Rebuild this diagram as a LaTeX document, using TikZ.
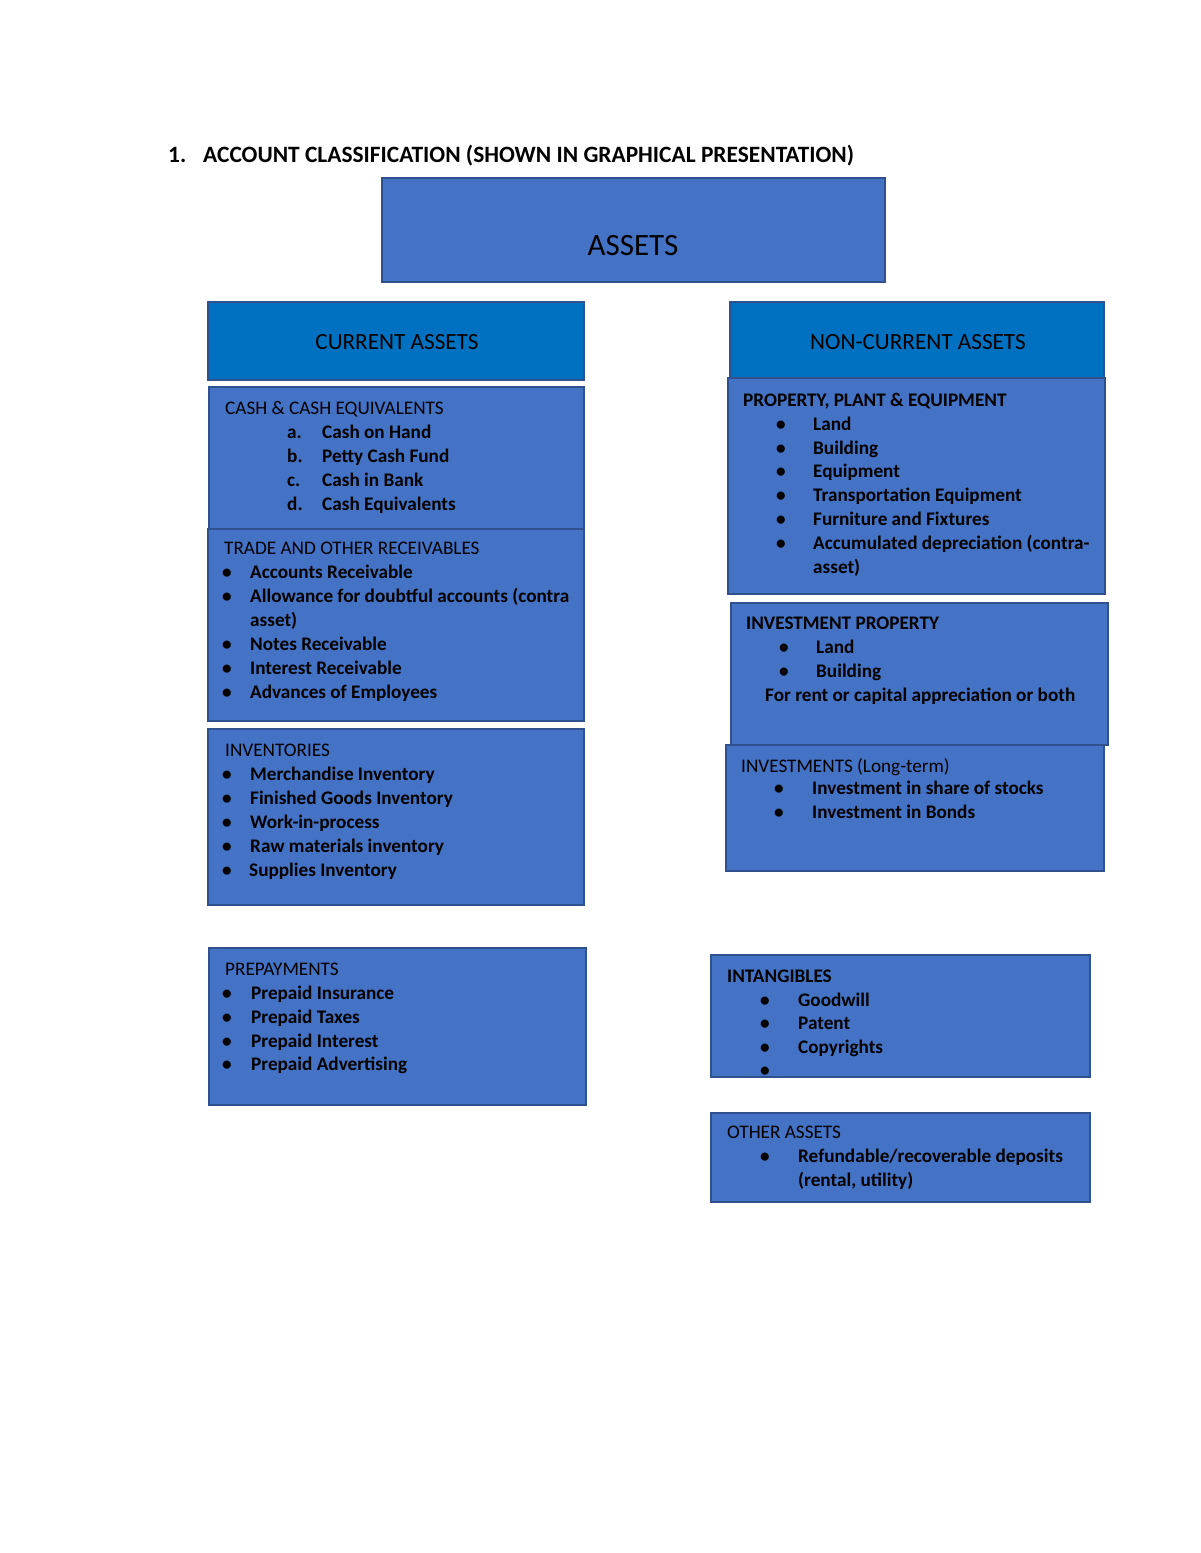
\documentclass[tikz,border=0pt]{standalone}
\usepackage{fontspec}
\setmainfont{Carlito}
\definecolor{fillc}{HTML}{4472C4}
\definecolor{headc}{HTML}{0070C0}
\definecolor{bordc}{HTML}{2F528F}
\begin{document}
\begin{tikzpicture}[x=1pt,y=-1pt,
  box/.style={draw=bordc,fill=fillc,line width=2pt},
  hbox/.style={draw=bordc,fill=headc,line width=2pt},
  ttl/.style={anchor=mid west,inner sep=0pt,yshift=-4pt,font=\fontsize{19.2}{23}\selectfont},
  itm/.style={anchor=mid west,inner sep=0pt,yshift=-4pt,font=\fontsize{19.2}{23}\selectfont\bfseries},
  bul/.style={anchor=mid west,inner sep=0pt,yshift=-4pt,font=\fontsize{19.2}{23}\selectfont\bfseries},
  hdr/.style={anchor=center,inner sep=0pt,font=\fontsize{23.2}{27}\selectfont}]
\useasboundingbox[fill=white] (0,0) rectangle (1200,1553);
% heading
\node[anchor=mid west,inner sep=0pt,yshift=-4pt,font=\fontsize{23.4}{27}\selectfont\bfseries] (num) at (168,156) {1.};
\node[anchor=mid west,inner sep=0pt,yshift=-4pt,font=\fontsize{23.4}{27}\selectfont\bfseries] (head) at (203,156) {ACCOUNT CLASSIFICATION (SHOWN IN GRAPHICAL PRESENTATION)};
% top boxes
\path[box] (382,178) rectangle (885,282);
\node[hdr,font=\fontsize{31}{36}\selectfont] (assets) at (633,246) {ASSETS};
\path[hbox] (208,302) rectangle (584,380);
\node[hdr] (ca) at (397,342) {CURRENT ASSETS};
\path[hbox] (730,302) rectangle (1104,380);
\node[hdr] (nca) at (918,342) {NON-CURRENT ASSETS};
% cash
\path[box] (209,387) rectangle (584,529);
\node[ttl] (cash) at (225,408) {CASH \& CASH EQUIVALENTS};
\node[itm] (ca1l) at (287,432) {a.};
\node[itm] (ca1) at (322,432) {Cash on Hand};
\node[itm] (ca2l) at (287,456) {b.};
\node[itm] (ca2) at (322,456) {Petty Cash Fund};
\node[itm] (ca3l) at (287,480) {c.};
\node[itm] (ca3) at (322,480) {Cash in Bank};
\node[itm] (ca4l) at (287,504) {d.};
\node[itm] (ca4) at (322,504) {Cash Equivalents};
% trade
\path[box] (208,529) rectangle (584,721);
\node[ttl] (trade) at (224,548) {TRADE AND OTHER RECEIVABLES};
\node[bul] (tb1) at (222,572) {\textbullet};
\node[itm] (t1) at (250,572) {Accounts Receivable};
\node[bul] (tb2) at (222,596) {\textbullet};
\node[itm] (t2) at (250,596) {Allowance for doubtful accounts (contra};
\node[itm] (t2b) at (250,620) {asset)};
\node[bul] (tb3) at (222,644) {\textbullet};
\node[itm] (t3) at (250,644) {Notes Receivable};
\node[bul] (tb4) at (222,668) {\textbullet};
\node[itm] (t4) at (250,668) {Interest Receivable};
\node[bul] (tb5) at (222,692) {\textbullet};
\node[itm] (t5) at (250,692) {Advances of Employees};
% inventories
\path[box] (208,729) rectangle (584,905);
\node[ttl] (inv) at (225,750) {INVENTORIES};
\node[bul] (ib1) at (222,774) {\textbullet};
\node[itm] (i1) at (250,774) {Merchandise Inventory};
\node[bul] (ib2) at (222,798) {\textbullet};
\node[itm] (i2) at (250,798) {Finished Goods Inventory};
\node[bul] (ib3) at (222,822) {\textbullet};
\node[itm] (i3) at (250,822) {Work-in-process};
\node[bul] (ib4) at (222,846) {\textbullet};
\node[itm] (i4) at (250,846) {Raw materials inventory};
\node[bul] (ib5) at (222,870) {\textbullet};
\node[itm] (i5) at (249,870) {Supplies Inventory};
% prepayments
\path[box] (209,948) rectangle (586,1105);
\node[ttl] (pre) at (225,969) {PREPAYMENTS};
\node[bul] (pb1) at (222,993) {\textbullet};
\node[itm] (p1) at (251,993) {Prepaid Insurance};
\node[bul] (pb2) at (222,1017) {\textbullet};
\node[itm] (p2) at (251,1017) {Prepaid Taxes};
\node[bul] (pb3) at (222,1041) {\textbullet};
\node[itm] (p3) at (251,1041) {Prepaid Interest};
\node[bul] (pb4) at (222,1064) {\textbullet};
\node[itm] (p4) at (251,1064) {Prepaid Advertising};
% PPE
\path[box] (728,378) rectangle (1105,594);
\node[itm] (ppe) at (743,400) {PROPERTY, PLANT \& EQUIPMENT};
\node[bul] (qb1) at (776,424) {\textbullet};
\node[itm] (q1) at (813,424) {Land};
\node[bul] (qb2) at (776,448) {\textbullet};
\node[itm] (q2) at (813,448) {Building};
\node[bul] (qb3) at (776,471) {\textbullet};
\node[itm] (q3) at (813,471) {Equipment};
\node[bul] (qb4) at (776,495) {\textbullet};
\node[itm] (q4) at (813,495) {Transportation Equipment};
\node[bul] (qb5) at (776,519) {\textbullet};
\node[itm] (q5) at (813,519) {Furniture and Fixtures};
\node[bul] (qb6) at (776,543) {\textbullet};
\node[itm] (q6) at (813,543) {Accumulated depreciation (contra-};
\node[itm] (q6b) at (813,567) {asset)};
% investment property
\path[box] (731,603) rectangle (1108,745);
\node[itm] (ip) at (746,623) {INVESTMENT PROPERTY};
\node[bul] (rb1) at (779,647) {\textbullet};
\node[itm] (r1) at (816,647) {Land};
\node[bul] (rb2) at (779,671) {\textbullet};
\node[itm] (r2) at (816,671) {Building};
\node[itm] (r3) at (765,695) {For rent or capital appreciation or both};
% investments
\path[box] (726,745) rectangle (1104,871);
\node[ttl] (invs) at (741,766) {INVESTMENTS (Long-term)};
\node[bul] (sb1) at (774,788) {\textbullet};
\node[itm] (s1) at (812,788) {Investment in share of stocks};
\node[bul] (sb2) at (774,812) {\textbullet};
\node[itm] (s2) at (812,812) {Investment in Bonds};
% intangibles
\path[box] (711,955) rectangle (1090,1077);
\node[itm] (intg) at (727,976) {INTANGIBLES};
\node[bul] (gb1) at (760,1000) {\textbullet};
\node[itm] (g1) at (798,1000) {Goodwill};
\node[bul] (gb2) at (760,1023) {\textbullet};
\node[itm] (g2) at (798,1023) {Patent};
\node[bul] (gb3) at (760,1047) {\textbullet};
\node[itm] (g3) at (798,1047) {Copyrights};
\begin{scope}
\clip (711,955) rectangle (1090,1075);
\node[bul] (gb4) at (760,1070) {\textbullet};
\end{scope}
% other assets
\path[box] (711,1113) rectangle (1090,1202);
\node[ttl] (oth) at (727,1132) {OTHER ASSETS};
\node[bul] (ob1) at (760,1156) {\textbullet};
\node[itm] (o1) at (798,1156) {Refundable/recoverable deposits};
\node[itm] (o1b) at (798,1180) {(rental, utility)};
\end{tikzpicture}
\end{document}
